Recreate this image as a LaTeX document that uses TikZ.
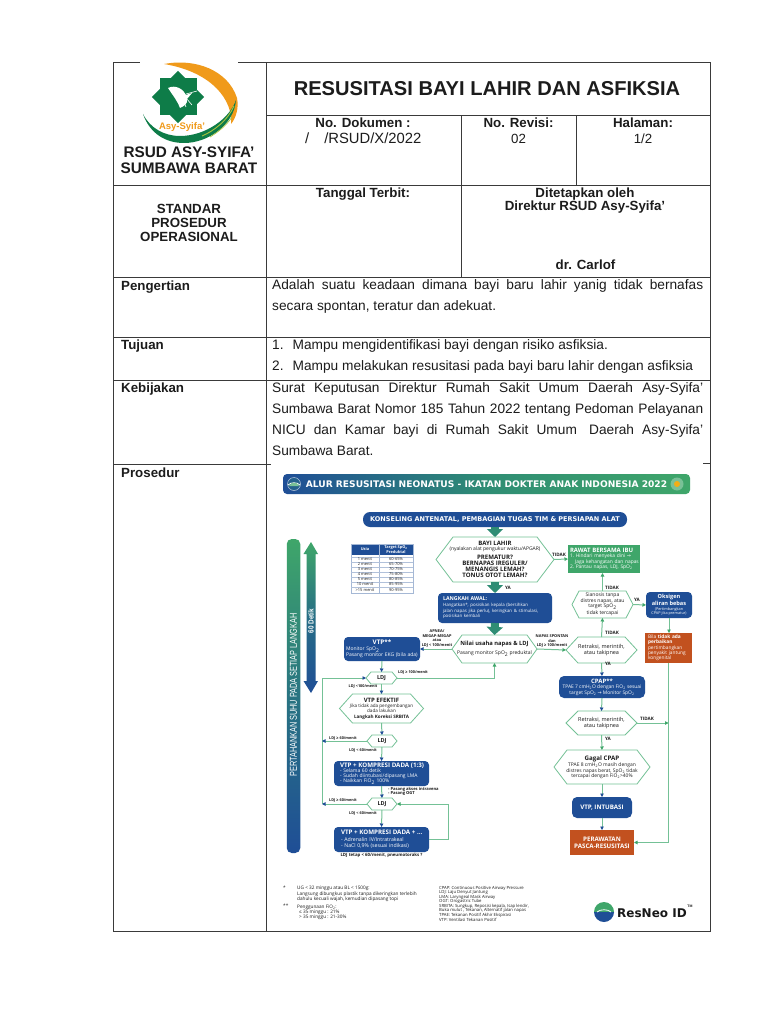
\documentclass[tikz,border=0pt]{standalone}
\usepackage{graphicx}
\usepackage{fontspec}
\setmainfont{Liberation Sans}
\newfontfamily\dv{DejaVu Sans}
\newfontfamily\os{Open Sans}
\usetikzlibrary{arrows.meta,calc}
\definecolor{blu}{HTML}{1F4E96}
\definecolor{grn}{HTML}{3FA66A}
\definecolor{lgrn}{HTML}{74C196}
\definecolor{teal2}{HTML}{2F8D74}
\definecolor{org}{HTML}{C2511F}
\definecolor{rule}{HTML}{3A3A3A}
\definecolor{ink}{HTML}{1C1C1C}
\definecolor{logog}{HTML}{0E7C48}
\definecolor{logoo}{HTML}{F09A1A}
\definecolor{logoy}{HTML}{A9C23F}
\makeatletter
\def\hexinsetval{8pt}
\pgfdeclareshape{hexa}{
  \inheritsavedanchors[from=rectangle]
  \inheritanchorborder[from=rectangle]
  \inheritanchor[from=rectangle]{center}
  \inheritanchor[from=rectangle]{north}
  \inheritanchor[from=rectangle]{south}
  \inheritanchor[from=rectangle]{east}
  \inheritanchor[from=rectangle]{west}
  \saveddimen{\hexin}{\pgf@x=\hexinsetval}
  \backgroundpath{
    \southwest \pgf@xa=\pgf@x \pgf@ya=\pgf@y
    \northeast \pgf@xb=\pgf@x \pgf@yb=\pgf@y
    \pgf@xc=.5\pgf@ya \advance\pgf@xc by .5\pgf@yb
    \pgfpathmoveto{\pgfqpoint{\pgf@xa}{\pgf@xc}}
    \pgfpathlineto{\pgfpointadd{\pgfqpoint{\pgf@xa}{\pgf@yb}}{\pgfqpoint{\hexin}{0pt}}}
    \pgfpathlineto{\pgfpointadd{\pgfqpoint{\pgf@xb}{\pgf@yb}}{\pgfqpoint{-\hexin}{0pt}}}
    \pgfpathlineto{\pgfqpoint{\pgf@xb}{\pgf@xc}}
    \pgfpathlineto{\pgfpointadd{\pgfqpoint{\pgf@xb}{\pgf@ya}}{\pgfqpoint{-\hexin}{0pt}}}
    \pgfpathlineto{\pgfpointadd{\pgfqpoint{\pgf@xa}{\pgf@ya}}{\pgfqpoint{\hexin}{0pt}}}
    \pgfpathclose
  }
}
\makeatother
\newcommand{\fz}[1]{\fontsize{#1}{#1}\selectfont}
\newcommand{\sbs}[1]{\textsubscript{#1}}
\tikzset{
  x=1pt,y=-1pt,
  sz/.style 2 args={minimum width=#1pt,minimum height=#2pt,inner sep=0pt,outer sep=0pt},
  hexb/.style n args={3}{shape=hexa,/utils/exec={\def\hexinsetval{#3pt}},sz={#1}{#2},draw=lgrn,line width=0.8pt,fill=white,align=center,font=\os\fz{5},text=ink},
  bluebox/.style 2 args={rectangle,rounded corners=4pt,fill=blu,sz={#1}{#2},text width=#1pt,align=left,text=white,font=\os\fz{5}},
  flat/.style n args={3}{rectangle,fill=#3,sz={#1}{#2},text width=#1pt,text=white,align=left,font=\os\fz{5}},
  lab/.style={inner sep=0pt,text=ink,font=\fz{13.3},align=center,yshift=-1.5pt},
  labb/.style={lab,font=\bfseries\fz{13.3}},
  body/.style={lab,anchor=west,font=\fz{13.7}},
  tiny/.style={inner sep=0pt,text=ink,font=\os\fz{3.9},align=center},
  tinyb/.style={tiny,font=\os\bfseries\fz{4.6}},
  apn/.style={tiny,font=\os\bfseries\fz{3.9}},
  ldl/.style={tiny,font=\os\bfseries\fz{3.8}},
  note/.style={inner sep=0pt,text=ink,anchor=west,font=\os\fz{4.7}},
  gloss/.style={note,font=\os\fz{4.25}},
  rl/.style={draw=rule,line width=0.9pt},
  flow/.style={draw=lgrn,line width=1pt,-{Triangle[length=3.5pt,width=3.5pt,color=blu]}},
  flowg/.style={draw=lgrn,line width=1pt,-{Triangle[length=3.5pt,width=3.5pt,color=grn]}},
  bigarr/.style={draw=teal2,line width=8pt,-{Triangle[length=8pt,width=16pt,color=teal2]}}
}
\begin{document}
\begin{tikzpicture}
\useasboundingbox (0,0) rectangle (768,1024);
\fill[white] (0,0) rectangle (768,1024);
% form grid
\draw[rl] (113.5,62.5) rectangle (710,931);
\draw[rl] (266,62.5) -- (266,931);
\draw[rl] (266,115.5) -- (710,115.5);
\draw[rl] (113.5,185) -- (710,185);
\draw[rl] (113.5,277.5) -- (710,277.5);
\draw[rl] (113.5,337.5) -- (710,337.5);
\draw[rl] (113.5,380) -- (710,380);
\draw[rl] (113.5,464) -- (271,464);
\draw[rl] (703,463.5) -- (710,463.5);
\draw[rl] (461.5,115.5) -- (461.5,277.5);
\draw[rl] (576.5,115.5) -- (576.5,185);
% logo
\fill[white] (140,60.5) rectangle (238,65);
\fill[logoo] (164,64) .. controls (195,58) and (228,70) .. (237,98) .. controls (239,108) and (236,118) .. (231,124) .. controls (233,100) and (212,72) .. (164,64) -- cycle;
\fill[logog] (143,114) .. controls (150,134) and (166,143) .. (184,143) .. controls (208,143) and (234,125) .. (236,100) .. controls (230,118) and (206,136) .. (180,136) .. controls (164,136) and (150,128) .. (143,114) -- cycle;
\draw[logoy,line width=.9pt] (234,106) .. controls (228,120) and (214,131) .. (202,136);
\draw[logoy,line width=.7pt] (232,117) .. controls (226,126) and (218,132) .. (210,137);
\fill[logog] (159.5,78.5) rectangle (196.5,115.5);
\fill[logog,rotate around={45:(178,97)}] (159.5,78.5) rectangle (196.5,115.5);
\fill[white] (168,88) .. controls (176,84) and (184,90) .. (186,95) -- (192,93) -- (187,99) .. controls (188,104) and (184,106) .. (180,108) .. controls (178,102) and (174,97) .. (168,88) -- cycle;
\draw[white,line width=.6pt] (186,94) -- (197,91) (186,98) -- (192,105) (183,100) -- (186,107);
\node[inner sep=0pt,text=logoo,font=\bfseries\fz{9.5}] (logotxt) at (182,127) {Asy-Syifa’};
% form texts
\node[labb,font=\bfseries\fz{15.3}] (rs1) at (189,151) {RSUD ASY-SYIFA’};
\node[labb,font=\bfseries\fz{15.3}] (rs2) at (189,167) {SUMBAWA BARAT};
\node[labb,font=\bfseries\fz{20.1}] (title) at (487,87.5) {RESUSITASI BAYI LAHIR DAN ASFIKSIA};
\node[labb] (nd) at (363,121) {No. Dokumen :};
\node[lab,anchor=west,font=\fz{14.8}] (ndv) at (305,137) {/\hspace{15pt}/RSUD/X/2022};
\node[labb] (nr) at (518.5,121) {No. Revisi:};
\node[lab] (nrv) at (518.5,137) {02};
\node[labb] (hl) at (643,121) {Halaman:};
\node[lab] (hlv) at (643,137) {1/2};
\node[labb] (sp1) at (189,207.5) {STANDAR};
\node[labb] (sp2) at (189,221.5) {PROSEDUR};
\node[labb] (sp3) at (189,235.5) {OPERASIONAL};
\node[labb] (tt) at (363,193) {Tanggal Terbit:};
\node[labb] (dt1) at (585,193) {Ditetapkan oleh};
\node[labb] (dt2) at (585,206) {Direktur RSUD Asy-Syifa’};
\node[labb] (dt3) at (585.5,263) {dr. Carlof};
\node[labb,anchor=west] (pe) at (121,286) {Pengertian};
\node[labb,anchor=west] (tu) at (121,345) {Tujuan};
\node[labb,anchor=west] (ke) at (121,388) {Kebijakan};
\node[labb,anchor=west] (pr) at (121,471.5) {Prosedur};
\node[body] (p1) at (272,284.5) {\makebox[431pt][s]{Adalah suatu keadaan dimana bayi baru lahir yanig tidak bernafas}};
\node[body] (p2) at (272,305.5) {secara spontan, teratur dan adekuat.};
\node[body] (t1) at (272,344.5) {1.\hspace{9pt}Mampu mengidentifikasi bayi dengan risiko asfiksia.};
\node[body] (t2) at (272,365) {2.\hspace{9pt}Mampu melakukan resusitasi pada bayi baru lahir dengan asfiksia};
\node[body] (k1) at (272,387) {\makebox[431pt][s]{Surat Keputusan Direktur Rumah Sakit Umum Daerah Asy-Syifa’}};
\node[body] (k2) at (272,408) {\makebox[431pt][s]{Sumbawa Barat Nomor 185 Tahun 2022 tentang Pedoman Pelayanan}};
\node[body] (k3) at (272,429) {\makebox[431pt][s]{NICU dan Kamar bayi di Rumah Sakit Umum\hspace{4pt} Daerah Asy-Syifa’}};
\node[body] (k4) at (272,449.5) {Sumbawa Barat.};
% header bars
\node[rectangle,rounded corners=4pt,left color=blu,right color=grn,middle color=teal2,sz={407}{20}] (hdr) at (486.5,484) {};
\node[inner sep=0pt,text=white,font=\dv\bfseries\fz{9.1}] (hdrt) at (486.5,484) {ALUR RESUSITASI NEONATUS - IKATAN DOKTER ANAK INDONESIA 2022};
\node[circle,draw=white!70!blu,line width=.5pt,fill=blu!70!teal2,minimum size=13pt,inner sep=0pt] (hl1) at (294,484) {};
\draw[white,line width=.8pt] (288,485) .. controls (291,482) and (297,482) .. (300,485);
\fill[grn!70!white] (289,486) arc (200:340:5.3) -- cycle;
\node[circle,fill=grn!70!white,minimum size=13pt,inner sep=0pt] (hl2) at (677,484) {};
\node[circle,fill=logoo!80!yellow,minimum size=6pt,inner sep=0pt] (hl3) at (677,484) {};
\node[rectangle,rounded corners=7pt,fill=blu,sz={264}{15},text=white,font=\dv\bfseries\fz{6.5}] (kons) at (495,519.5) {KONSELING ANTENATAL, PEMBAGIAN TUGAS TIM \& PERSIAPAN ALAT};
% side bars
\node[rectangle,rounded corners=5pt,top color=grn,bottom color=blu,middle color=teal2!60!blu,sz={13.5}{314}] (suhu) at (293.5,696) {};
\node[rotate=90,inner sep=0pt,text=white,font=\fz{10}] (suhut) at (293.5,695) {\scalebox{.73}[1]{PERTAHANKAN SUHU PADA SETIAP LANGKAH}};
\shade[top color=grn,bottom color=blu,middle color=teal2!50!blu] (311,542) -- (318,554) -- (315.5,554) -- (315.5,681) -- (318,681) -- (311,693) -- (303.5,681) -- (306.5,681) -- (306.5,554) -- (303.5,554) -- cycle;
\node[rotate=90,inner sep=0pt,text=white,font=\bfseries\fz{7.5}] (detik) at (311,621) {\scalebox{.85}[1]{60 Detik}};
% SpO2 table
\node[rectangle,fill=blu,sz={62}{10.5},anchor=north west] (tbh) at (351,544) {};
\node[rectangle,draw=blu!40!white,line width=.6pt,sz={62}{49},anchor=north west] (tbo) at (351,544) {};
\node[inner sep=0pt,text=white,font=\os\bfseries\fz{3.9}] (tbu) at (365,549.5) {Usia};
\node[inner sep=0pt,text=white,font=\os\bfseries\fz{3.9},align=center] (tbs) at (396,549.3) {Target SpO\sbs{2}\\Preduktal};
\draw[blu!40!white,line width=.5pt] (379,544) -- (379,593);
\foreach \yy in {557,562,567,572,577,582,587}{\draw[blu!35!white,line width=.3pt] (351,\yy) -- (413,\yy);}
\foreach \n/\yy/\aa/\bb in {a/559.5/1 menit/60-65\%,b/564.5/2 menit/65-70\%,c/569.5/3 menit/70-75\%,d/574.5/4 menit/75-80\%,e/579.5/5 menit/80-85\%,f/584.5/10 menit/85-95\%,g/590/>15 menit/90-95\%}{
  \node[inner sep=0pt,text=ink,font=\os\fz{4}] (ru\n) at (365,\yy) {\aa};
  \node[inner sep=0pt,text=ink,font=\os\fz{4}] (rv\n) at (396,\yy) {\bb};
}
% centre flow
\node[hexb={118}{45}{17}] (bayi) at (495,559.5) {\fz{6}\bfseries BAYI LAHIR\\{\fz{5}(nyalakan alat pengukur waktu/APGAR)}\\[2.5pt]\fz{6.1}\bfseries PREMATUR?\\[1.1pt]\fz{6.1}\bfseries BERNAPAS IREGULER/\\[1.1pt]\fz{6.1}\bfseries MENANGIS LEMAH?\\[1.1pt]\fz{6.1}\bfseries TONUS OTOT LEMAH?};
\node[bluebox={114}{30}] (awal) at (495,608) {\hspace*{5pt}\begin{tabular}{@{}l@{}}{\fz{5.3}\bfseries LANGKAH AWAL:}\\[1pt]{\fz{4.4}Hangatkan*, posisikan kepala (bersihkan}\\[.3pt]{\fz{4.4}jalan napas jika perlu), keringkan \& stimulasi,}\\[.3pt]{\fz{4.4}posisikan kembali}\end{tabular}};
\node[hexb={85}{28}{10}] (nilai) at (494.5,649) {\fz{5.8}\bfseries Nilai usaha napas \& LDJ\\[2.5pt]\fz{5}Pasang monitor SpO\sbs{2} preduktal};
\node[apn] (apnea) at (437,638.5) {APNEA/\\[.6pt]MEGAP-MEGAP\\[.6pt]atau\\[.6pt]LDJ < 100/menit};
\node[apn] (spont) at (552,641) {NAPAS SPONTAN\\[.6pt]dan\\[.6pt]LDJ ≥ 100/menit};
\node[bluebox={76}{24}] (vtp) at (382,649) {\hspace*{2pt}\begin{tabular}{@{}l@{}}\multicolumn{1}{@{}p{72pt}@{}}{\centering\fz{6.3}\bfseries VTP**}\\[1pt]Monitor SpO\sbs{2}\\[.2pt]Pasang monitor EKG (bila ada)\end{tabular}};
\node[hexb={31}{12}{5},font=\os\bfseries\fz{5.5}] (ldja) at (381.5,678) {LDJ};
\node[ldl] (la1) at (413,672.5) {LDJ ≥ 100/menit};
\node[ldl] (la2) at (363,686) {LDJ <100/menit};
\node[hexb={84}{29}{13},font=\os\fz{4.6}] (efek) at (381.5,708.5) {\fz{6}\bfseries VTP EFEKTIF\\[.5pt]Jika tidak ada pengembangan\\[.8pt]dada lakukan\\[.8pt]\bfseries Langkah Koreksi SRBITA};
\node[hexb={30}{12}{5},font=\os\bfseries\fz{5.5}] (ldjb) at (382,741) {LDJ};
\node[ldl] (lb1) at (343,738) {LDJ ≥ 60/menit};
\node[ldl] (lb2) at (363,750) {LDJ < 60/menit};
\node[bluebox={95}{25}] (kd1) at (381.5,773.5) {\hspace*{6pt}\begin{tabular}{@{}l@{}}{\fz{6.2}\bfseries VTP + KOMPRESI DADA (1:3)}\\[.3pt]- Selama 60 detik\\[-.6pt]- Sudah diintubasi/dipasang LMA\\[-.6pt]- Naikkan FiO\sbs{2} 100\%\end{tabular}};
\node[tiny,anchor=west,align=left,font=\os\bfseries\fz{4.1}] (akses) at (388,791.5) {- Pasang akses intravena\\[-.6pt]- Pasang OGT};
\node[hexb={30}{12}{5},font=\os\bfseries\fz{5.5}] (ldjc) at (382,804) {LDJ};
\node[ldl] (lc1) at (343,800) {LDJ ≥ 60/menit};
\node[ldl] (lc2) at (363,813) {LDJ < 60/menit};
\node[bluebox={95}{25}] (kd2) at (381.5,839.5) {\hspace*{7pt}\begin{tabular}{@{}l@{}}{\fz{6.2}\bfseries VTP + KOMPRESI DADA + ...}\\[1pt]{\fz{5.2}- Adrenalin IV/Intratrakeal}\\[.2pt]{\fz{5.2}- NaCl 0,9\% (sesuai indikasi)}\end{tabular}};
\node[tiny,font=\os\bfseries\fz{4.35}] (tetap) at (381.5,855.5) {LDJ tetap < 60/menit, pneumotoraks ?};
% right flow
\node[flat={72}{28}{grn}] (rawat) at (604,559) {\hspace*{2pt}\begin{tabular}{@{}l@{}}{\fz{6}\bfseries RAWAT BERSAMA IBU}\\[.5pt]{\fz{4.9}1.\ Hindari menyeka dini {\dv →}}\\[.3pt]{\fz{4.9}\ \ \ Jaga kehangatan dan napas}\\[.3pt]{\fz{4.9}2.\ Pantau napas, LDJ, SpO\sbs{2}}\end{tabular}};
\node[tinyb] (td1) at (559,554.5) {TIDAK};
\node[tinyb] (ya1) at (508,587.5) {YA};
\node[hexb={61}{27}{7}] (sian) at (602.5,604.5) {Sianosis tanpa\\[.5pt]distres napas, atau\\[.5pt]target SpO\sbs{2}\\[.5pt]tidak tercapai};
\node[tinyb] (td2) at (612,588) {TIDAK};
\node[tinyb] (ya2) at (637,600) {YA};
\node[rectangle,rounded corners=4pt,fill=blu,sz={46}{26},text=white,align=center,font=\os\fz{3.8}] (oks) at (669,605) {{\fz{5.6}\bfseries Oksigen}\\[.6pt]{\fz{5.6}\bfseries aliran bebas}\\[.8pt](Pertimbangkan\\[.2pt]CPAP jika prematur)};
\node[flat={47}{30}{org}] (bila) at (668.5,648) {\hspace*{3pt}\begin{tabular}{@{}l@{}}{\fz{4.8}Bila \bfseries tidak ada}\\[.2pt]{\fz{4.8}\bfseries perbaikan}\\[.2pt]{\fz{4.8}pertimbangkan}\\[.2pt]{\fz{4.8}penyakit jantung}\\[.2pt]{\fz{4.8}kongenital}\end{tabular}};
\node[hexb={71}{26}{12},font=\os\fz{5.5}] (reta) at (601.5,650) {Retraksi, merintih,\\[.5pt]atau takipnea};
\node[tinyb] (td3) at (612,633) {TIDAK};
\node[tinyb] (ya3) at (608,664) {YA};
\node[rectangle,rounded corners=5pt,fill=blu,sz={86}{22},text=white,align=center,font=\os\fz{4.9}] (cpap) at (602,687) {{\fz{6}\bfseries CPAP**}\\[1pt]TPAE 7 cmH\sbs{2}O dengan FiO\sbs{2} sesuai\\[.5pt]target SpO\sbs{2} {\dv →} Monitor SpO\sbs{2}};
\node[hexb={71}{24}{12},font=\os\fz{5.5}] (retb) at (601.5,723) {Retraksi, merintih,\\[.5pt]atau takipnea};
\node[tinyb] (td4) at (647,719) {TIDAK};
\node[tinyb] (ya4) at (608,738.5) {YA};
\node[hexb={96}{34}{13},font=\os\fz{4.95}] (gagal) at (602,767) {\fz{6.2}\bfseries Gagal CPAP\\[.5pt]TPAE 8 cmH\sbs{2}O masih dengan\\[.3pt]distres napas berat, SpO\sbs{2} tidak\\[.3pt]tercapai dengan FiO\sbs{2}>40\%};
\node[rectangle,rounded corners=5pt,fill=blu,sz={60}{21},text=white,font=\os\bfseries\fz{6.2}] (intu) at (602,807.5) {VTP, INTUBASI};
\node[rectangle,fill=org,sz={64}{25},text=white,align=center,font=\os\bfseries\fz{6.2}] (peraw) at (602,842.5) {PERAWATAN\\[.5pt]PASCA-RESUSITASI};
% helper coordinates
\coordinate (fbtop) at (322,678);
\coordinate (fbbot) at (322,804);
\coordinate (loopc) at (448,804);
\coordinate (merge) at (668.5,723);
% connectors
\draw[bigarr] (kons.south) -- (bayi.north);
\draw[bigarr] (bayi.south) -- (awal.north);
\draw[bigarr] (awal.south) -- (nilai.north);
\draw[flowg] (bayi.east) -- (rawat.west);
\draw[flow] (nilai.west) -- (vtp.east);
\draw[flow] (vtp.south) -- (ldja.north);
\draw[flowg] (ldja.east) -| (nilai.south);
\draw[flow] (ldja.south) -- (efek.north);
\draw[flow] (efek.south) -- (ldjb.north);
\draw[flow] (ldjb.south) -- (kd1.north);
\draw[flow] (kd1.south) -- (ldjc.north);
\draw[flow] (ldjc.south) -- (kd2.north);
\draw[flow] (fbbot) -- (fbtop) -- (ldja.west);
\draw[flow] (ldjb.west) -- (ldjb.west -| fbtop);
\draw[flow] (ldjc.west) -- (fbbot);
\draw[flowg] (kd2.east) -| (loopc) -- (ldjc.east);
\draw[flowg] (nilai.east) -- (reta.west);
\draw[flowg] (reta.north) -- (sian.south);
\draw[flowg] (sian.north) -- (sian.north |- rawat.south);
\draw[flowg] (sian.east) -- (oks.west);
\draw[flowg] (oks.south) -- (oks.south |- bila.north);
\draw[flow] (reta.south) -- (cpap.north);
\draw[flow] (cpap.south) -- (retb.north);
\draw[flowg] (retb.south) -- (gagal.north);
\draw[flowg] (retb.east) -- (merge);
\draw[flow] (gagal.south) -- (intu.north);
\draw[flow] (intu.south) -- (peraw.north);
\draw[flowg] (bila.south) |- (peraw.east);
% footnotes
\node[note] (n0) at (283,888) {*};
\node[note] (n1) at (297,888) {UG < 32 minggu atau BL < 1500g:};
\node[note] (n2) at (297,894.5) {Langsung dibungkus plastik tanpa dikeringkan terlebih};
\node[note] (n3) at (297,899.5) {dahulu kecuali wajah, kemudian dipasang topi};
\node[note] (n4) at (283,906) {**};
\node[note] (n5) at (297,907) {Penggunaan FiO\sbs{2}:};
\node[note] (n6) at (299,912) {≤ 35 minggu : 21\%};
\node[note] (n7) at (299,917) {> 35 minggu : 21-30\%};
\node[gloss] (g1) at (439,888) {CPAP: Continuous Positive Airway Pressure};
\node[gloss] (g2) at (439,892.5) {LDJ: Laju Denyut Jantung};
\node[gloss] (g3) at (439,897) {LMA: Laryngeal Mask Airway};
\node[gloss] (g4) at (439,901.5) {OGT: Orogastric Tube};
\node[gloss] (g5) at (439,906) {SRBITA: Sungkup, Reposisi kepala, Isap lendir,};
\node[gloss] (g6) at (439,910.5) {Buka mulut , Tekanan, Alternatif jalan napas};
\node[gloss] (g7) at (439,915) {TPAE: Tekanan Positif Akhir Ekspirasi};
\node[gloss] (g8) at (439,919.5) {VTP: Ventilasi Tekanan Positif};
% ResNeo logo
\fill[grn] (594,912) arc (180:360:10) -- cycle;
\fill[blu] (594,912) arc (180:0:10) -- cycle;
\draw[white,line width=.8pt] (597,912) .. controls (600,909) and (608,909) .. (611,912);
\node[inner sep=0pt,anchor=west,text=ink!85!black,font=\dv\bfseries\fz{12}] (rn) at (617,913.5) {ResNeo ID};
\node[inner sep=0pt,text=ink,font=\bfseries\fz{3.5}] (tm) at (690,906) {TM};
\end{tikzpicture}
\end{document}
